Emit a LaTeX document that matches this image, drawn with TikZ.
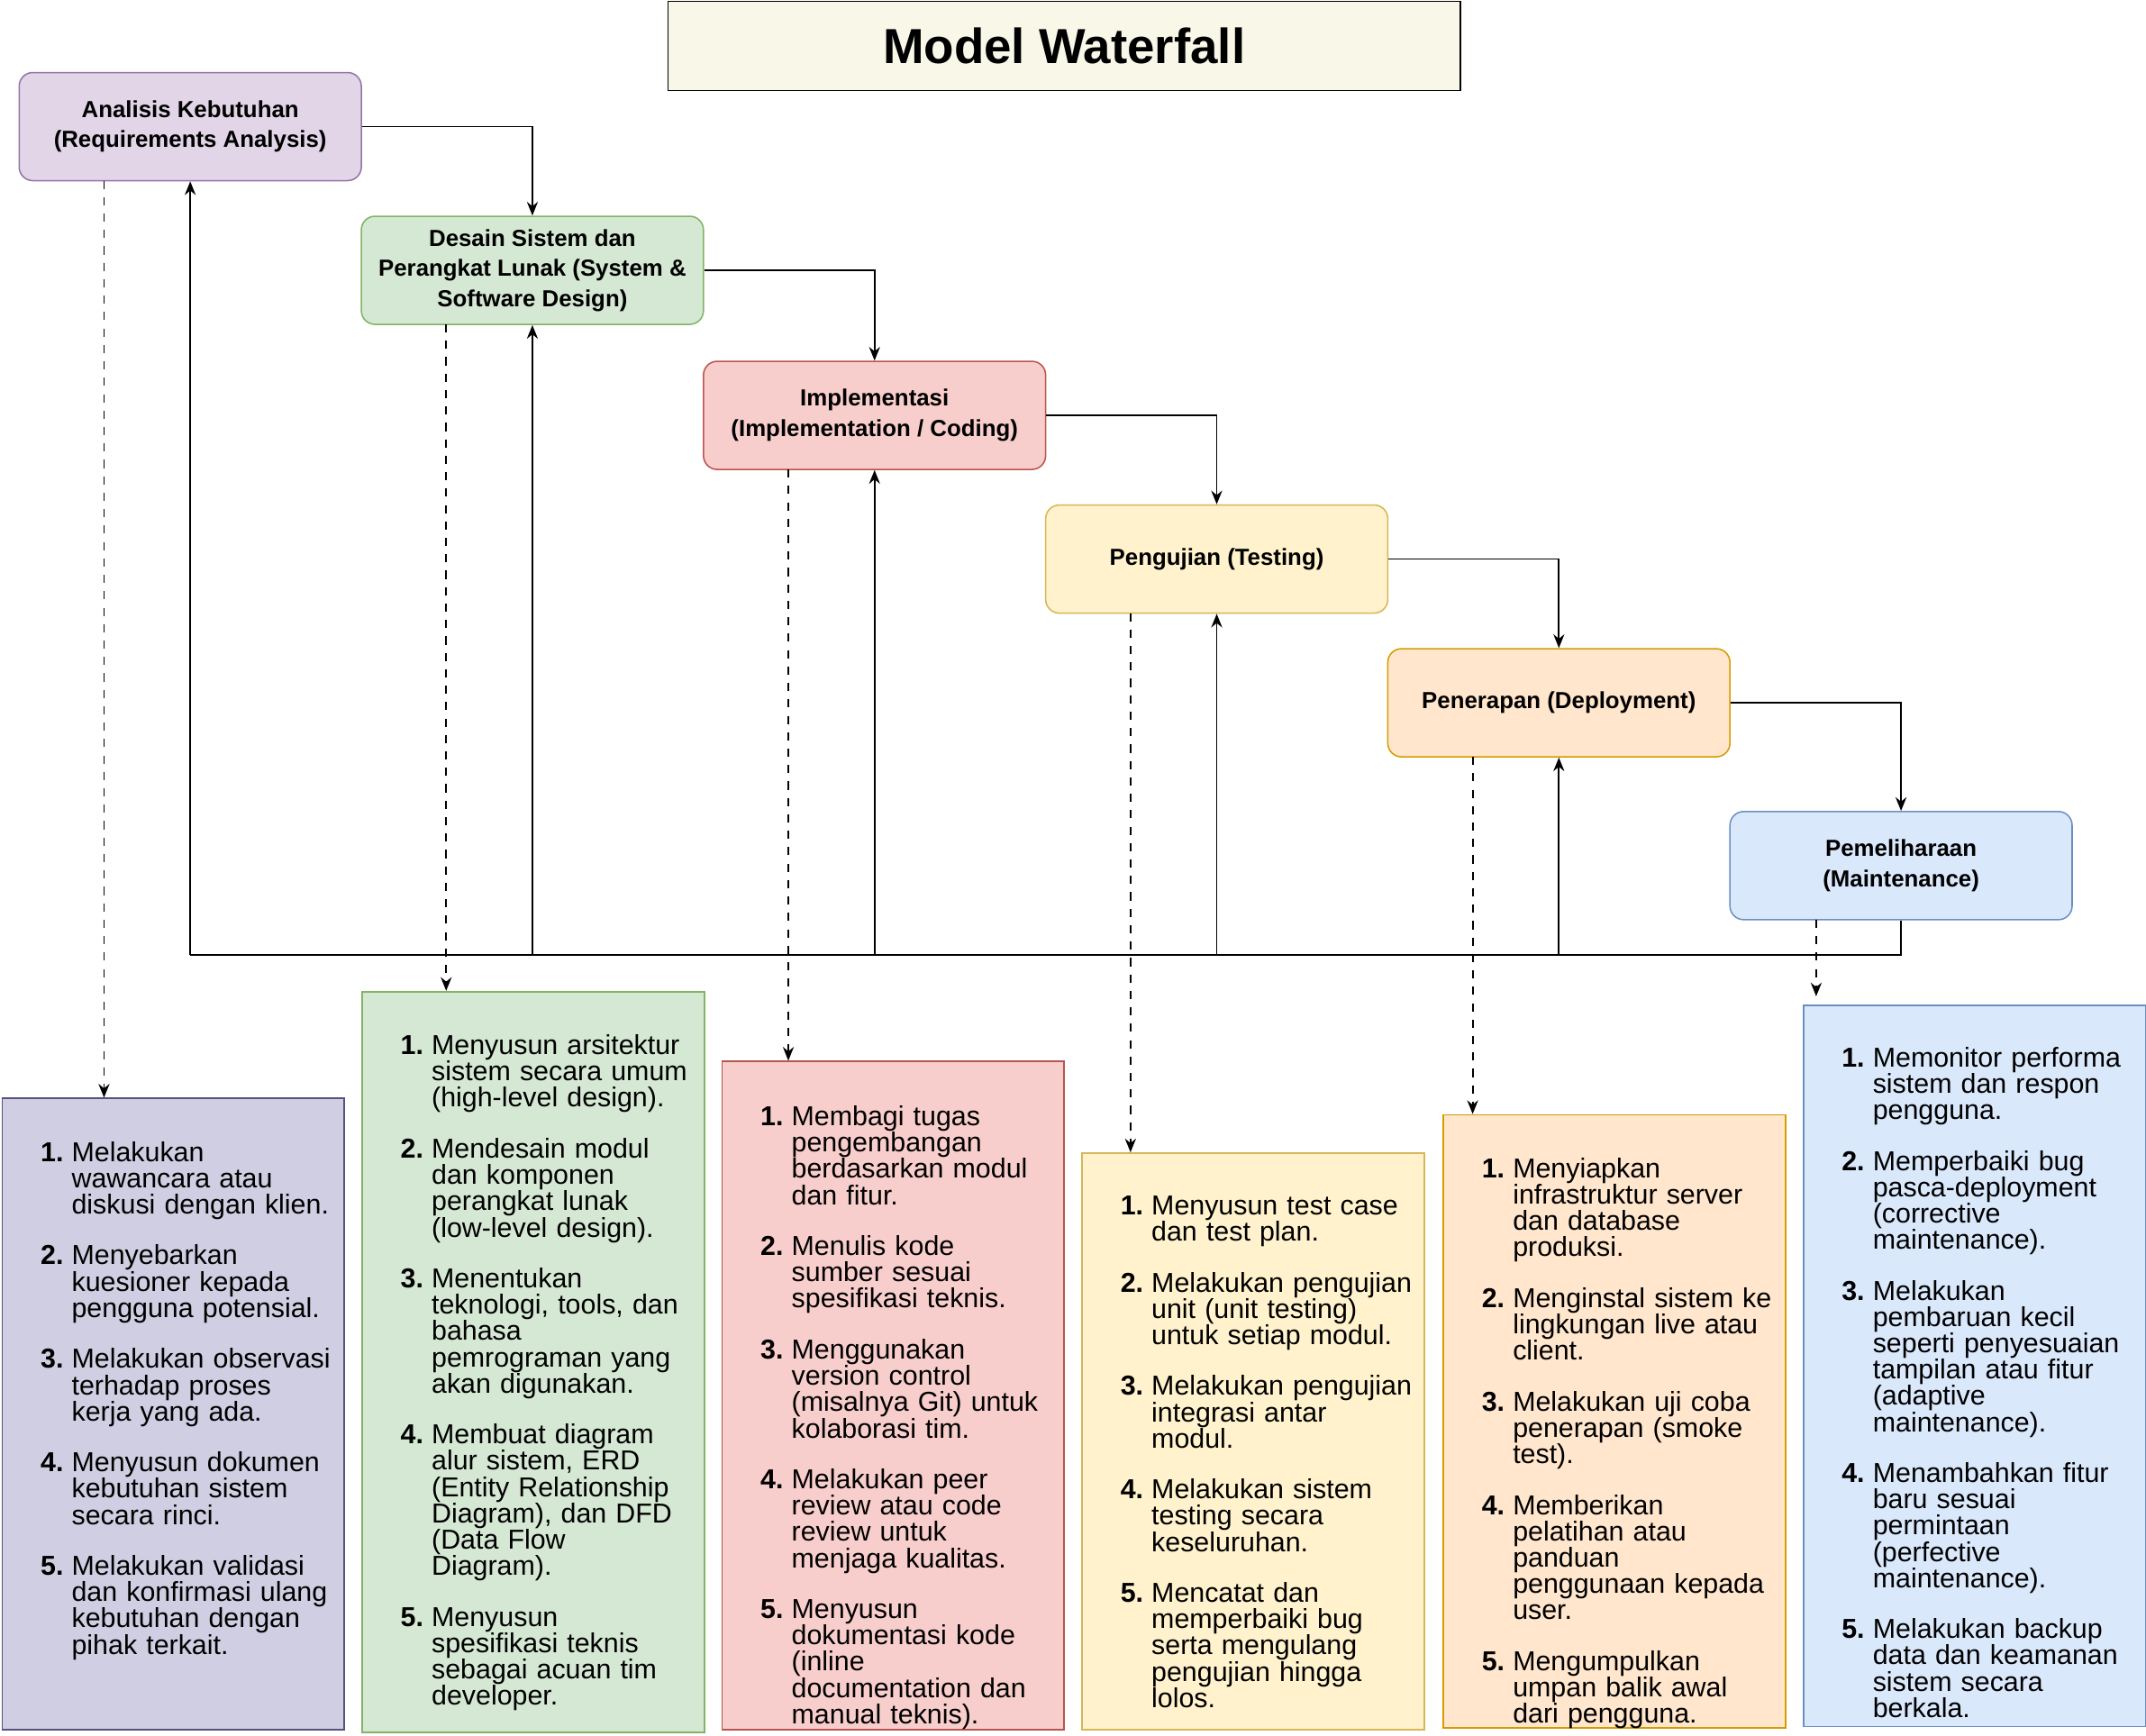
\documentclass[tikz,border=0pt]{standalone}
\usepackage{fontspec}
\setmainfont{Liberation Sans}
\usepackage{enumitem}
\usetikzlibrary{arrows.meta}
\definecolor{pf}{HTML}{E1D5E7}\definecolor{pd}{HTML}{9673A6}
\definecolor{gf}{HTML}{D5E8D4}\definecolor{gd}{HTML}{82B366}
\definecolor{rf}{HTML}{F8CECC}\definecolor{rd}{HTML}{B85450}
\definecolor{yf}{HTML}{FFF2CC}\definecolor{yd}{HTML}{D6B656}
\definecolor{of}{HTML}{FFE6CC}\definecolor{od}{HTML}{D79B00}
\definecolor{bf}{HTML}{DAE8FC}\definecolor{bd}{HTML}{6C8EBF}
\definecolor{lf}{HTML}{D0CEE2}\definecolor{ld}{HTML}{56517E}
\definecolor{tf}{HTML}{F9F7E8}
\newlist{wlist}{enumerate}{1}
\setlist[wlist]{label=\textbf{\arabic*.},leftmargin=11.5pt,labelsep=3pt,itemsep=9pt,parsep=0pt,topsep=0pt,partopsep=0pt}
\tikzset{
 phase/.style={draw,rounded corners=5pt,minimum width=125pt,minimum height=39.5pt,font=\fontsize{8.5}{11}\selectfont\bfseries,align=center,line width=0.5pt},
 lbox/.style={draw,line width=0.6pt},
 ltext/.style={anchor=north west,inner sep=0pt,text width=125pt,font=\fontsize{10}{9.6}\selectfont},
 arr/.style={-{Stealth[length=5pt,width=4pt]},line width=0.6pt},
 darr/.style={arr,dashed}
}
\begin{document}
\begin{tikzpicture}[x=0.5pt,y=-0.5pt]
\useasboundingbox (0,0) rectangle (1568,1268);
\node[draw,fill=tf,minimum width=289.5pt,minimum height=32.5pt,font=\fontsize{18}{20}\selectfont\bfseries] (title) at (777.5,33.5) {Model Waterfall};
\node[phase,fill=pf,draw=pd] (A) at (139,92.5) {Analisis Kebutuhan\\(Requirements Analysis)};
\node[phase,fill=gf,draw=gd] (B) at (389,197.5) {Desain Sistem dan\\Perangkat Lunak (System \&\\Software Design)};
\node[phase,fill=rf,draw=rd] (C) at (639,303.5) {Implementasi\\(Implementation / Coding)};
\node[phase,fill=yf,draw=yd] (D) at (889,408.5) {Pengujian (Testing)};
\node[phase,fill=of,draw=od] (E) at (1139,513.5) {Penerapan (Deployment)};
\node[phase,fill=bf,draw=bd] (F) at (1389,632.5) {Pemeliharaan\\(Maintenance)};
% list boxes
\node[lbox,fill=lf,draw=ld,anchor=north west,minimum width=125pt,minimum height=230.5pt,inner sep=0pt] (L1) at (1,802) {};
\node[lbox,fill=gf,draw=gd,anchor=north west,minimum width=125pt,minimum height=270.5pt,inner sep=0pt] (L2) at (264,724) {};
\node[lbox,fill=rf,draw=rd,anchor=north west,minimum width=125pt,minimum height=244pt,inner sep=0pt] (L3) at (527,775) {};
\node[lbox,fill=yf,draw=yd,anchor=north west,minimum width=125pt,minimum height=210.5pt,inner sep=0pt] (L4) at (790,842) {};
\node[lbox,fill=of,draw=od,anchor=north west,minimum width=125pt,minimum height=224pt,inner sep=0pt] (L5) at (1054,814) {};
\node[lbox,fill=bf,draw=bd,anchor=north west,minimum width=125pt,minimum height=263.5pt,inner sep=0pt] (L6) at (1317,734) {};
% arrows
\draw[arr] (A.east) -| (B.north);
\draw[arr] (B.east) -| (C.north);
\draw[arr] (C.east) -| (D.north);
\draw[arr] (D.east) -| (E.north);
\draw[arr] (E.east) -| (F.north);
\coordinate (fb) at (1389,698);
\coordinate (fa) at (139,698);
\draw[line width=0.6pt] (F.south) -- (fb) -- (fa);
\draw[arr] (fa) -- (A.south);
\draw[arr] (389,698) -- (B.south);
\draw[arr] (639,698) -- (C.south);
\draw[arr] (889,698) -- (D.south);
\draw[arr] (1139,698) -- (E.south);
\draw[darr] (76,132) -- (76,802);
\draw[darr] (326,237) -- (326,724);
\draw[darr] (576,343) -- (576,775);
\draw[darr] (826,448) -- (826,842);
\draw[darr] (1076,553) -- (1076,814);
\draw[darr] (1327,672) -- (1327,728);
% texts
\node[ltext] (T1) at (29,829) {\begin{wlist}
\item Melakukan\\wawancara atau\\diskusi dengan klien.
\item Menyebarkan\\kuesioner kepada\\pengguna potensial.
\item Melakukan observasi\\terhadap proses\\kerja yang ada.
\item Menyusun dokumen\\kebutuhan sistem\\secara rinci.
\item Melakukan validasi\\dan konfirmasi ulang\\kebutuhan dengan\\pihak terkait.
\end{wlist}};
\node[ltext] (T2) at (292,751) {\begin{wlist}
\item Menyusun arsitektur\\sistem secara umum\\(high-level design).
\item Mendesain modul\\dan komponen\\perangkat lunak\\(low-level design).
\item Menentukan\\teknologi, tools, dan\\bahasa\\pemrograman yang\\akan digunakan.
\item Membuat diagram\\alur sistem, ERD\\(Entity Relationship\\Diagram), dan DFD\\(Data Flow\\Diagram).
\item Menyusun\\spesifikasi teknis\\sebagai acuan tim\\developer.
\end{wlist}};
\node[ltext] (T3) at (555,803) {\begin{wlist}
\item Membagi tugas\\pengembangan\\berdasarkan modul\\dan fitur.
\item Menulis kode\\sumber sesuai\\spesifikasi teknis.
\item Menggunakan\\version control\\(misalnya Git) untuk\\kolaborasi tim.
\item Melakukan peer\\review atau code\\review untuk\\menjaga kualitas.
\item Menyusun\\dokumentasi kode\\(inline\\documentation dan\\manual teknis).
\end{wlist}};
\node[ltext] (T4) at (818,868) {\begin{wlist}
\item Menyusun test case\\dan test plan.
\item Melakukan pengujian\\unit (unit testing)\\untuk setiap modul.
\item Melakukan pengujian\\integrasi antar\\modul.
\item Melakukan sistem\\testing secara\\keseluruhan.
\item Mencatat dan\\memperbaiki bug\\serta mengulang\\pengujian hingga\\lolos.
\end{wlist}};
\node[ltext] (T5) at (1082,841) {\begin{wlist}
\item Menyiapkan\\infrastruktur server\\dan database\\produksi.
\item Menginstal sistem ke\\lingkungan live atau\\client.
\item Melakukan uji coba\\penerapan (smoke\\test).
\item Memberikan\\pelatihan atau\\panduan\\penggunaan kepada\\user.
\item Mengumpulkan\\umpan balik awal\\dari pengguna.
\end{wlist}};
\node[ltext] (T6) at (1345,760) {\begin{wlist}
\item Memonitor performa\\sistem dan respon\\pengguna.
\item Memperbaiki bug\\pasca-deployment\\(corrective\\maintenance).
\item Melakukan\\pembaruan kecil\\seperti penyesuaian\\tampilan atau fitur\\(adaptive\\maintenance).
\item Menambahkan fitur\\baru sesuai\\permintaan\\(perfective\\maintenance).
\item Melakukan backup\\data dan keamanan\\sistem secara\\berkala.
\end{wlist}};
\end{tikzpicture}
\end{document}
